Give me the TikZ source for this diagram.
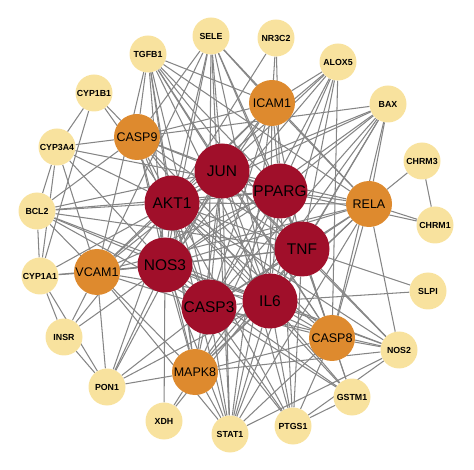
\documentclass[tikz,border=0pt]{standalone}
\usepackage{fontspec}
\setmainfont{Liberation Sans}
\usetikzlibrary{backgrounds}

\definecolor{lowc}{HTML}{F8E29E}
\definecolor{midc}{HTML}{DE8A2E}
\definecolor{highc}{HTML}{A00F2A}
\definecolor{linkc}{HTML}{858585}

\tikzset{
  low/.style={circle,fill=lowc,inner sep=0pt,minimum size=37pt,font=\fontsize{8.8}{9}\selectfont\bfseries},
  mid/.style={circle,fill=midc,inner sep=0pt,minimum size=46pt,font=\fontsize{12.5}{13}\selectfont},
  high/.style={circle,fill=highc,inner sep=0pt,minimum size=55pt,font=\fontsize{15.5}{16}\selectfont},
  link/.style={draw=linkc,line width=1.05pt}
}

\begin{document}
\begin{tikzpicture}[x=1pt,y=-1pt]
  \useasboundingbox (0,0) rectangle (474,470);
  % hubs
  \node (JUN)   at (222,171) [high] {JUN};
  \node (PPARG) at (280,191) [high] {PPARG};
  \node (AKT1)  at (172,203) [high] {AKT1};
  \node (TNF)   at (302,249) [high] {TNF};
  \node (NOS3)  at (165,265) [high] {NOS3};
  \node (CASP3) at (209,307) [high] {CASP3};
  \node (IL6)   at (270,301) [high] {IL6};
  % second ring
  \node (ICAM1) at (272,103) [mid] {ICAM1};
  \node (CASP9) at (137,137) [mid] {CASP9};
  \node (RELA)  at (369,204) [mid] {RELA};
  \node (VCAM1) at (97,272)  [mid] {VCAM1};
  \node (CASP8) at (332,338) [mid] {CASP8};
  \node (MAPK8) at (195,372) [mid] {MAPK8};
  % outer ring
  \node (SELE)   at (211,36)  [low] {SELE};
  \node (NR3C2)  at (276,38)  [low] {NR3C2};
  \node (TGFB1)  at (148,54)  [low] {TGFB1};
  \node (ALOX5)  at (338,62)  [low] {ALOX5};
  \node (CYP1B1) at (94,93)   [low] {CYP1B1};
  \node (BAX)    at (388,104) [low] {BAX};
  \node (CYP3A4) at (57,147)  [low] {CYP3A4};
  \node (CHRM3)  at (422,161) [low] {CHRM3};
  \node (BCL2)   at (37,211)  [low] {BCL2};
  \node (CHRM1)  at (435,225) [low] {CHRM1};
  \node (CYP1A1) at (40,276)  [low] {CYP1A1};
  \node (SLPI)   at (428,291) [low] {SLPI};
  \node (INSR)   at (64,337)  [low] {INSR};
  \node (NOS2)   at (399,350) [low] {NOS2};
  \node (PON1)   at (107,387) [low] {PON1};
  \node (GSTM1)  at (352,397) [low] {GSTM1};
  \node (XDH)    at (164,421) [low] {XDH};
  \node (PTGS1)  at (293,426) [low] {PTGS1};
  \node (STAT1)  at (230,434) [low] {STAT1};

  \begin{scope}[on background layer]
    % hubs among themselves
    \path[link] (JUN) edge (PPARG) edge (AKT1) edge (TNF) edge (NOS3) edge (CASP3) edge (IL6);
    \path[link] (PPARG) edge (AKT1) edge (TNF) edge (NOS3) edge (CASP3) edge (IL6);
    \path[link] (AKT1) edge (TNF) edge (NOS3) edge (CASP3) edge (IL6);
    \path[link] (TNF) edge (NOS3) edge (CASP3) edge (IL6);
    \path[link] (NOS3) edge (CASP3) edge (IL6);
    \path[link] (CASP3) edge (IL6);
    % second ring
    \path[link] (ICAM1) edge (JUN) edge (PPARG) edge (AKT1) edge (TNF) edge (NOS3) edge (CASP3) edge (IL6) edge (VCAM1) edge (RELA) edge (CASP9);
    \path[link] (CASP9) edge (JUN) edge (PPARG) edge (AKT1) edge (TNF) edge (NOS3) edge (CASP3) edge (IL6) edge (CASP8) edge (MAPK8);
    \path[link] (RELA) edge (JUN) edge (PPARG) edge (AKT1) edge (TNF) edge (NOS3) edge (CASP3) edge (IL6) edge (VCAM1) edge (CASP8) edge (MAPK8);
    \path[link] (VCAM1) edge (JUN) edge (PPARG) edge (AKT1) edge (TNF) edge (NOS3) edge (CASP3) edge (IL6);
    \path[link] (CASP8) edge (JUN) edge (PPARG) edge (AKT1) edge (TNF) edge (NOS3) edge (CASP3) edge (IL6) edge (MAPK8);
    \path[link] (MAPK8) edge (JUN) edge (PPARG) edge (AKT1) edge (TNF) edge (NOS3) edge (CASP3) edge (IL6);
    % outer ring
    \path[link] (SELE) edge (ICAM1) edge (VCAM1) edge (JUN) edge (AKT1) edge (PPARG) edge (TNF) edge (IL6) edge (NOS3) edge (CASP3) edge (RELA) edge (CASP9) edge (STAT1);
    \path[link] (TGFB1) edge (CASP9) edge (ICAM1) edge (JUN) edge (AKT1) edge (PPARG) edge (TNF) edge (IL6) edge (NOS3) edge (CASP3) edge (RELA) edge (MAPK8) edge (VCAM1) edge (CASP8);
    \path[link] (NR3C2) edge (ICAM1) edge (AKT1) edge (PPARG);
    \path[link] (ALOX5) edge (ICAM1) edge (AKT1) edge (JUN) edge (PPARG) edge (TNF) edge (IL6) edge (NOS3) edge (CASP3) edge (CASP8);
    \path[link] (BAX) edge (CASP9) edge (AKT1) edge (JUN) edge (PPARG) edge (TNF) edge (IL6) edge (CASP3) edge (CASP8) edge (RELA) edge (MAPK8) edge (NOS3);
    \path[link] (CHRM3) edge (RELA) edge (CHRM1);
    \path[link] (CHRM1) edge (RELA) edge (PPARG);
    \path[link] (SLPI) edge (TNF) edge (IL6);
    \path[link] (NOS2) edge (CASP8) edge (TNF) edge (IL6) edge (RELA) edge (CASP3) edge (NOS3) edge (AKT1) edge (PTGS1) edge (STAT1) edge (MAPK8) edge (JUN);
    \path[link] (GSTM1) edge (CASP8) edge (PTGS1) edge (IL6) edge (CASP3) edge (NOS3) edge (TNF) edge (AKT1);
    \path[link] (PTGS1) edge (IL6) edge (TNF) edge (CASP3) edge (PPARG) edge (AKT1) edge (NOS3) edge (CASP8) edge (JUN);
    \path[link] (STAT1) edge (CASP3) edge (IL6) edge (TNF) edge (AKT1) edge (JUN) edge (NOS3) edge (PPARG) edge (MAPK8) edge (CASP8) edge (RELA) edge (ICAM1) edge (VCAM1);
    \path[link] (XDH) edge (MAPK8) edge (NOS3) edge (TNF);
    \path[link] (PON1) edge (INSR) edge (VCAM1) edge (NOS3) edge (AKT1) edge (CASP3) edge (JUN) edge (MAPK8) edge (IL6) edge (CYP1A1);
    \path[link] (INSR) edge (CYP1A1) edge (AKT1) edge (NOS3) edge (VCAM1);
    \path[link] (CYP1A1) edge (VCAM1) edge (CYP3A4) edge (BCL2) edge (NOS3) edge (AKT1);
    \path[link] (BCL2) edge (CYP3A4) edge (AKT1) edge (CASP9) edge (JUN) edge (NOS3) edge (CASP3) edge (TNF) edge (IL6) edge (MAPK8) edge (PPARG);
    \path[link] (CYP3A4) edge (CYP1B1) edge (CASP9) edge (AKT1) edge (NOS3) edge (PPARG) edge (VCAM1);
    \path[link] (CYP1B1) edge (CASP9) edge (CYP1A1) edge (AKT1);
  \end{scope}
\end{tikzpicture}
\end{document}
